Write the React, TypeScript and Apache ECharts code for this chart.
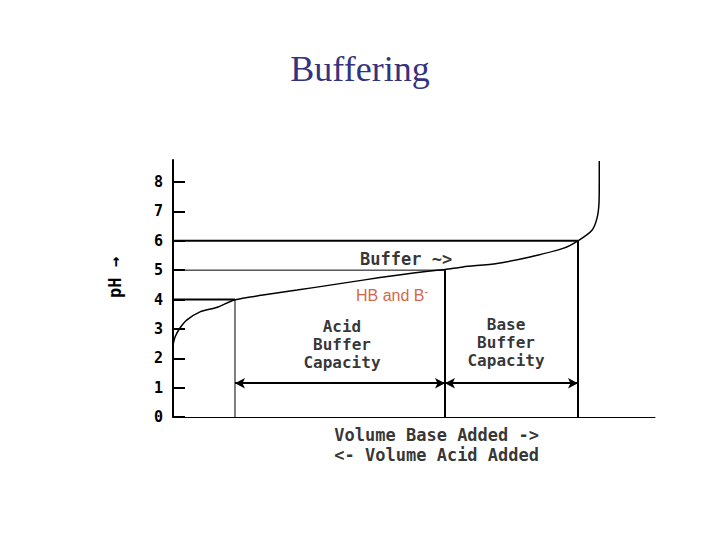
import React, { useEffect, useRef } from "react";
import * as echarts from "echarts";

// Titration curve (volume in arbitrary units 0..100, pH)
const curveVolume = [0, 0.45, 1.45, 2.84, 5.6, 9.07, 12.86, 18.67, 25.73, 32.57, 39.42, 46.47, 53.32, 56.43, 60.17, 67.22, 74.07, 80.91, 84.02, 86.93, 87.97, 88.38, 88.44, 88.44];
const curvePH = [2.45, 2.73, 3.03, 3.3, 3.58, 3.73, 3.99, 4.15, 4.32, 4.49, 4.66, 4.83, 4.97, 5.02, 5.11, 5.23, 5.45, 5.74, 6.0, 6.36, 6.77, 7.28, 8.0, 8.72];

// Guide lines: acid limit, half-equivalence, base limit
const guideVolume = [12.86, 56.43, 84.02];
const guidePH = [4, 5, 6];

const yTicks = [0, 1, 2, 3, 4, 5, 6, 7, 8];
const arrowPH = 1.15;

const pixelFont = "'DejaVu Sans Mono', monospace";

export default function App() {
  const ref = useRef<HTMLDivElement>(null);
  useEffect(() => {
    document.body.style.margin = "0";
    const chart = echarts.init(ref.current!, null, { renderer: "svg" });
    const black = "#000";
    const curve = curveVolume.map((v, i) => [v, curvePH[i]]);
    const hLineWidths = [2, 1, 2];
    const vLineWidths = [1, 2, 2];
    const guideSeries: any[] = [];
    guideVolume.forEach((v, i) => {
      guideSeries.push({
        type: "line",
        data: [[0, guidePH[i]], [v, guidePH[i]]],
        symbol: "none",
        lineStyle: { color: black, width: hLineWidths[i] },
        silent: true,
      });
      guideSeries.push({
        type: "line",
        data: [[v, 0], [v, guidePH[i]]],
        symbol: "none",
        lineStyle: { color: black, width: vLineWidths[i] },
        silent: true,
      });
    });
    const textStyle = {
      fontFamily: pixelFont,
      fontWeight: "bold" as const,
      fontSize: 17,
      color: black,
      lineHeight: 20,
    };
    const sans = "'Liberation Sans', Arial, sans-serif";
    chart.setOption({
      animation: false,
      backgroundColor: "#fff",
      title: {
        text: "Buffering",
        left: "center",
        top: 46,
        textStyle: {
          fontFamily: "'Liberation Serif', 'Times New Roman', serif",
          fontWeight: "normal",
          fontSize: 36,
          color: "#333380",
        },
      },
      grid: { left: 173, right: 65, top: 160, bottom: 123 },
      xAxis: {
        type: "value",
        min: 0,
        max: 100,
        axisLine: { show: true, lineStyle: { color: black, width: 1 } },
        axisTick: { show: false },
        axisLabel: { show: false },
        splitLine: { show: false },
      },
      yAxis: {
        type: "value",
        min: 0,
        max: 8.75,
        name: "pH →",
        nameLocation: "middle",
        nameRotate: 90,
        nameGap: 50,
        nameTextStyle: { fontFamily: pixelFont, fontWeight: "bold", fontSize: 17, color: black, padding: [0, 0, 0, 22] },
        axisLine: { show: true, lineStyle: { color: black, width: 2 } },
        axisTick: { show: true, inside: true, length: 12, customValues: yTicks, lineStyle: { color: black, width: 2 } },
        axisLabel: { customValues: yTicks, margin: 10, fontFamily: pixelFont, fontWeight: "bold", fontSize: 15, color: black },
        splitLine: { show: false },
      },
      series: [
        ...guideSeries,
        {
          type: "line",
          data: curve,
          symbol: "none",
          smooth: 0.25,
          lineStyle: { color: black, width: 1.5 },
          silent: true,
          markLine: {
            silent: true,
            symbol: ["arrow", "arrow"],
            symbolSize: [8, 10],
            label: { show: false },
            lineStyle: { color: black, width: 2, type: "solid" },
            data: [
              [{ coord: [guideVolume[0], arrowPH] }, { coord: [guideVolume[1], arrowPH] }],
              [{ coord: [guideVolume[1], arrowPH] }, { coord: [guideVolume[2], arrowPH] }],
            ],
          },
        },
        {
          type: "scatter",
          symbolSize: 0,
          clip: false,
          silent: true,
          label: { show: true, position: "inside", ...textStyle },
          data: [
            { value: [35.06, 2.48], label: { formatter: "Acid\nBuffer\nCapacity", fontSize: 16, lineHeight: 18 } },
            { value: [69.09, 2.55], label: { formatter: "Base\nBuffer\nCapacity", fontSize: 16, lineHeight: 18 } },
            { value: [54.7, -0.95], label: { formatter: "Volume Base Added ->\n<- Volume Acid Added", lineHeight: 20 } },
            { value: [38.8, 5.37], label: { position: "right", distance: 0, formatter: "Buffer ~>" } },
            {
              value: [37.97, 4.12],
              label: {
                position: "right",
                distance: 0,
                fontWeight: "normal",
                formatter: "{a|HB and B}{s|-}",
                rich: {
                  a: { fontFamily: sans, fontWeight: "normal", fontSize: 16, color: "#cc3a12" },
                  s: { fontFamily: sans, fontWeight: "normal", fontSize: 10, color: "#cc3a12", padding: [0, 0, 8, 0] },
                },
              },
            },
          ],
        },
      ],
    });
    return () => chart.dispose();
  }, []);
  return <div ref={ref} style={{ width: 720, height: 540 }} />;
}
